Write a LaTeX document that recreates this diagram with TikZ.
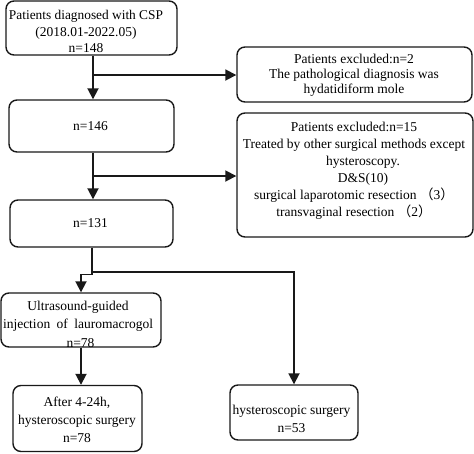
\documentclass[tikz,border=0pt]{standalone}
\usepackage{fontspec}
\usepackage{graphicx}
\setmainfont{Liberation Serif}
\newfontfamily\cjk{Noto Sans CJK SC}
\usetikzlibrary{arrows.meta}
\begin{document}
\begin{tikzpicture}[x=1pt,y=-1pt,
  box/.style={draw=black!90, line width=1.4pt, rounded corners=8pt, inner sep=0pt},
  txt/.style={font=\fontsize{13.5}{16.5}\selectfont, align=center, inner sep=0pt, text=black},
  conn/.style={draw=black!90, line width=1.8pt},
  arr/.style={conn, -{Triangle[length=11pt,width=11pt]}}
]
\fill[white] (0,0) rectangle (474,453);
\useasboundingbox (0,0) rectangle (474,453);

% boxes
\node[box, minimum width=171pt, minimum height=54pt] (b1) at (91.5,28) {};
\node[box, minimum width=165pt, minimum height=52pt] (b2) at (91.5,126) {};
\node[box, minimum width=163pt, minimum height=47pt] (b3) at (91.5,223.5) {};
\node[box, minimum width=235pt, minimum height=55pt] (e1) at (354.5,74.5) {};
\node[box, minimum width=236pt, minimum height=124pt] (e2) at (355,175) {};
\node[box, minimum width=160pt, minimum height=54pt] (u) at (81,320) {};
\node[box, minimum width=129pt, minimum height=66pt] (a) at (77.5,418.5) {};
\node[box, minimum width=128pt, minimum height=55pt] (h) at (294,412.5) {};

% texts
\node[txt] (t1) at (86,31.5) {\resizebox{154pt}{!}{Patients diagnosed with CSP}\\(2018.01-2022.05)\\n=148};
\node[txt] (t2) at (90.5,126) {n=146};
\node[txt] (t3) at (90.5,223.5) {n=131};
\node[txt, font=\fontsize{13.5}{15}\selectfont] (te1) at (354,75) {Patients excluded:n=2\\The pathological diagnosis was\\hydatidiform mole};
\node[txt, font=\fontsize{13.5}{17}\selectfont] (te2) at (354,171) {Patients excluded:n=15\\Treated by other surgical methods except\\\hspace*{18pt}hysteroscopy.\\\hspace*{18pt}D\&S(10)\\surgical laparotomic resection {\cjk（}3{\cjk）}\\transvaginal resection {\cjk（}2{\cjk）}};
\node[txt, font=\fontsize{13.5}{18.5}\selectfont] (tu) at (78,324) {Ultrasound-guided\\\makebox[150pt][s]{injection of lauromacrogol}\\\hspace*{5pt}n=78};
\node[txt, font=\fontsize{13.5}{18}\selectfont] (ta) at (77,420) {After 4-24h,\\hysteroscopic surgery\\n=78};
\node[txt, font=\fontsize{13.5}{18}\selectfont] (th) at (291.5,419) {hysteroscopic surgery\\n=53};

% connectors
\coordinate (j1) at (93,75);
\coordinate (j2) at (93,176);
\coordinate (j3) at (92,272);
\draw[conn] (j1 |- b1.south) -- (j1);
\draw[arr] (j1) -- (j1 |- b2.north);
\draw[arr] (j1) -- (j1 -| e1.west);
\draw[conn] (j2 |- b2.south) -- (j2);
\draw[arr] (j2) -- (j2 |- b3.north);
\draw[arr] (j2) -- (j2 -| e2.west);
\draw[conn] (j3 |- b3.south) -- (j3);
\draw[arr] (j3) -- (j3 -| h.north) -- (h.north);
\draw[arr] (j3) -- ++(0,2.5) -| (u.north);
\draw[arr] (u.south) -- (u.south |- a.north);
\end{tikzpicture}
\end{document}
